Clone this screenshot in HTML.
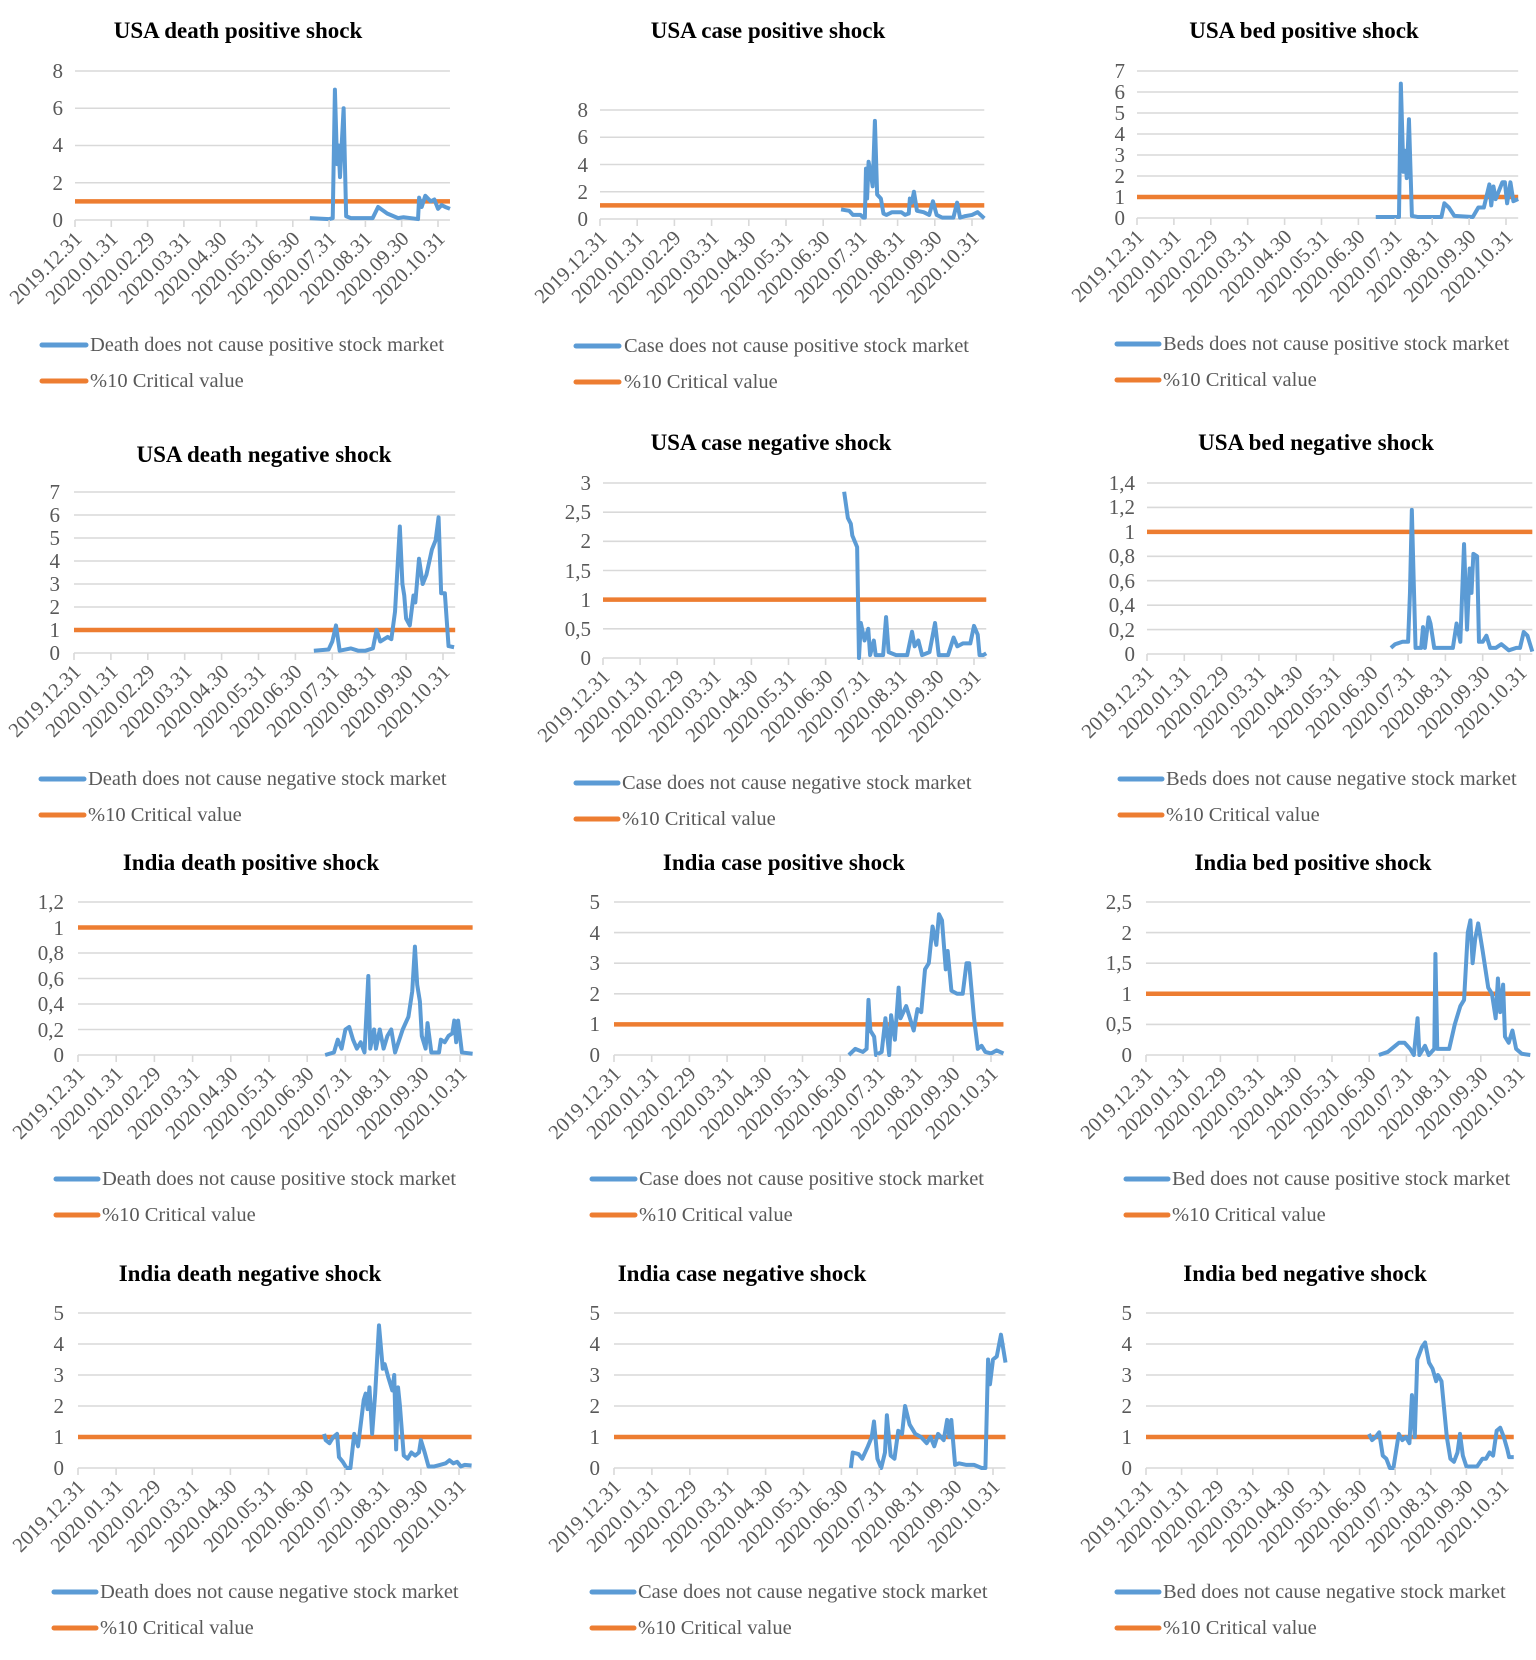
<!DOCTYPE html>
<html><head><meta charset="utf-8"><style>
html,body{margin:0;padding:0;background:#fff}
svg{display:block}
.t{font:bold 23px "Liberation Serif",serif;fill:#000;text-anchor:middle}
.yl{font:21px "Liberation Serif",serif;fill:#595959;text-anchor:end}
.xl{font:20.5px "Liberation Serif",serif;fill:#595959;text-anchor:end}
.lg{font:20.5px "Liberation Serif",serif;fill:#595959}
.g{stroke:#d9d9d9;stroke-width:1.6;fill:none}
.b{stroke:#5b9bd5;stroke-width:4;fill:none;stroke-linejoin:round}
.o{stroke:#ed7d31;stroke-width:4.5;fill:none}
.lb{stroke:#5b9bd5;stroke-width:5;stroke-linecap:round}
.lo{stroke:#ed7d31;stroke-width:5;stroke-linecap:round}
</style></head><body>
<svg width="1536" height="1660" viewBox="0 0 1536 1660" xmlns="http://www.w3.org/2000/svg">

<!-- P1 -->
<text class="t" x="238" y="38">USA death positive shock</text>
<g transform="translate(75,220) scale(36.3,-18.625)">
<path class="g" vector-effect="non-scaling-stroke" d="M0 0H10.33M0 2H10.33M0 4H10.33M0 6H10.33M0 8H10.33"/>
<polyline class="o" vector-effect="non-scaling-stroke" points="0,1 10.33,1"/>
<polyline class="b" vector-effect="non-scaling-stroke" points="6.47,0.1 7,0.05 7.1,0.1 7.16,7 7.22,3 7.26,4 7.3,2.3 7.4,6 7.47,0.2 7.6,0.1 8.2,0.1 8.35,0.7 8.6,0.35 8.9,0.1 9.05,0.15 9.45,0.05 9.48,1.2 9.55,0.7 9.65,1.3 9.8,1 9.9,1.1 10,0.6 10.1,0.8 10.2,0.7 10.33,0.6"/>
</g>
<g transform="translate(75,220) scale(36.3,1)"><path class="g" vector-effect="non-scaling-stroke" d="M0 0v7M1 0v7M2 0v7M3 0v7M4 0v7M5 0v7M6 0v7M7 0v7M8 0v7M9 0v7M10 0v7"/></g>
<text class="yl" x="63" y="227">0</text><text class="yl" x="63" y="190">2</text><text class="yl" x="63" y="152">4</text><text class="yl" x="63" y="115">6</text><text class="yl" x="63" y="78">8</text>
<g transform="translate(75,220)">
<text class="xl" transform="translate(8,20) rotate(-45)">2019.12.31</text><text class="xl" transform="translate(44,20) rotate(-45)">2020.01.31</text><text class="xl" transform="translate(81,20) rotate(-45)">2020.02.29</text><text class="xl" transform="translate(117,20) rotate(-45)">2020.03.31</text><text class="xl" transform="translate(153,20) rotate(-45)">2020.04.30</text><text class="xl" transform="translate(190,20) rotate(-45)">2020.05.31</text><text class="xl" transform="translate(226,20) rotate(-45)">2020.06.30</text><text class="xl" transform="translate(262,20) rotate(-45)">2020.07.31</text><text class="xl" transform="translate(298,20) rotate(-45)">2020.08.31</text><text class="xl" transform="translate(335,20) rotate(-45)">2020.09.30</text><text class="xl" transform="translate(371,20) rotate(-45)">2020.10.31</text>
</g>
<line class="lb" x1="42" y1="345" x2="86" y2="345"/><text class="lg" x="90" y="351">Death does not cause positive stock market</text>
<line class="lo" x1="42" y1="381" x2="86" y2="381"/><text class="lg" x="90" y="387">%10 Critical value</text>

<!-- P2 -->
<text class="t" x="768" y="38">USA case positive shock</text>
<g transform="translate(600,219) scale(37.2,-13.625)">
<path class="g" vector-effect="non-scaling-stroke" d="M0 0H10.33M0 2H10.33M0 4H10.33M0 6H10.33M0 8H10.33"/>
<polyline class="o" vector-effect="non-scaling-stroke" points="0,1 10.33,1"/>
<polyline class="b" vector-effect="non-scaling-stroke" points="6.48,0.7 6.7,0.6 6.8,0.3 7,0.3 7.08,0.1 7.12,0.1 7.15,3.7 7.18,1.5 7.22,4.2 7.28,3.3 7.33,2.4 7.39,7.2 7.45,1.8 7.55,1.5 7.62,0.4 7.7,0.3 7.85,0.5 8.1,0.5 8.2,0.3 8.3,0.4 8.33,1.5 8.38,1.2 8.44,2 8.52,0.6 8.7,0.5 8.85,0.3 8.95,1.3 9.05,0.3 9.2,0.1 9.5,0.1 9.6,1.2 9.68,0.1 9.8,0.2 10,0.3 10.15,0.5 10.33,0.05"/>
</g>
<g transform="translate(600,219) scale(37.2,1)"><path class="g" vector-effect="non-scaling-stroke" d="M0 0v7M1 0v7M2 0v7M3 0v7M4 0v7M5 0v7M6 0v7M7 0v7M8 0v7M9 0v7M10 0v7"/></g>
<text class="yl" x="588" y="226">0</text><text class="yl" x="588" y="199">2</text><text class="yl" x="588" y="172">4</text><text class="yl" x="588" y="144">6</text><text class="yl" x="588" y="117">8</text>
<g transform="translate(600,219)">
<text class="xl" transform="translate(8,20) rotate(-45)">2019.12.31</text><text class="xl" transform="translate(45,20) rotate(-45)">2020.01.31</text><text class="xl" transform="translate(82,20) rotate(-45)">2020.02.29</text><text class="xl" transform="translate(120,20) rotate(-45)">2020.03.31</text><text class="xl" transform="translate(157,20) rotate(-45)">2020.04.30</text><text class="xl" transform="translate(194,20) rotate(-45)">2020.05.31</text><text class="xl" transform="translate(231,20) rotate(-45)">2020.06.30</text><text class="xl" transform="translate(268,20) rotate(-45)">2020.07.31</text><text class="xl" transform="translate(306,20) rotate(-45)">2020.08.31</text><text class="xl" transform="translate(343,20) rotate(-45)">2020.09.30</text><text class="xl" transform="translate(380,20) rotate(-45)">2020.10.31</text>
</g>
<line class="lb" x1="576" y1="346" x2="619" y2="346"/><text class="lg" x="624" y="352">Case does not cause positive stock market</text>
<line class="lo" x1="576" y1="382" x2="619" y2="382"/><text class="lg" x="624" y="388">%10 Critical value</text>

<!-- P3 -->
<text class="t" x="1304" y="38">USA bed positive shock</text>
<g transform="translate(1137,218) scale(36.9,-21)">
<path class="g" vector-effect="non-scaling-stroke" d="M0 0H10.33M0 1H10.33M0 2H10.33M0 3H10.33M0 4H10.33M0 5H10.33M0 6H10.33M0 7H10.33"/>
<polyline class="o" vector-effect="non-scaling-stroke" points="0,1 10.33,1"/>
<polyline class="b" vector-effect="non-scaling-stroke" points="6.47,0.05 7.1,0.05 7.15,6.4 7.22,2.2 7.26,3.2 7.31,1.9 7.37,4.7 7.45,0.1 7.6,0.05 8.25,0.05 8.33,0.7 8.45,0.5 8.6,0.1 9.1,0.05 9.25,0.5 9.4,0.5 9.55,1.6 9.6,0.6 9.66,1.5 9.72,0.9 9.9,1.7 9.97,1.7 10.03,0.7 10.12,1.7 10.2,0.8 10.33,0.9"/>
</g>
<g transform="translate(1137,218) scale(36.9,1)"><path class="g" vector-effect="non-scaling-stroke" d="M0 0v7M1 0v7M2 0v7M3 0v7M4 0v7M5 0v7M6 0v7M7 0v7M8 0v7M9 0v7M10 0v7"/></g>
<text class="yl" x="1125" y="225">0</text><text class="yl" x="1125" y="204">1</text><text class="yl" x="1125" y="183">2</text><text class="yl" x="1125" y="162">3</text><text class="yl" x="1125" y="141">4</text><text class="yl" x="1125" y="120">5</text><text class="yl" x="1125" y="99">6</text><text class="yl" x="1125" y="78">7</text>
<g transform="translate(1137,218)">
<text class="xl" transform="translate(8,20) rotate(-45)">2019.12.31</text><text class="xl" transform="translate(45,20) rotate(-45)">2020.01.31</text><text class="xl" transform="translate(82,20) rotate(-45)">2020.02.29</text><text class="xl" transform="translate(119,20) rotate(-45)">2020.03.31</text><text class="xl" transform="translate(156,20) rotate(-45)">2020.04.30</text><text class="xl" transform="translate(193,20) rotate(-45)">2020.05.31</text><text class="xl" transform="translate(229,20) rotate(-45)">2020.06.30</text><text class="xl" transform="translate(266,20) rotate(-45)">2020.07.31</text><text class="xl" transform="translate(303,20) rotate(-45)">2020.08.31</text><text class="xl" transform="translate(340,20) rotate(-45)">2020.09.30</text><text class="xl" transform="translate(377,20) rotate(-45)">2020.10.31</text>
</g>
<line class="lb" x1="1117" y1="344" x2="1159" y2="344"/><text class="lg" x="1163" y="350">Beds does not cause positive stock market</text>
<line class="lo" x1="1117" y1="380" x2="1159" y2="380"/><text class="lg" x="1163" y="386">%10 Critical value</text>

<!-- P4 -->
<text class="t" x="264" y="462">USA death negative shock</text>
<g transform="translate(74,653) scale(36.9,-23)">
<path class="g" vector-effect="non-scaling-stroke" d="M0 0H10.33M0 1H10.33M0 2H10.33M0 3H10.33M0 4H10.33M0 5H10.33M0 6H10.33M0 7H10.33"/>
<polyline class="o" vector-effect="non-scaling-stroke" points="0,1 10.33,1"/>
<polyline class="b" vector-effect="non-scaling-stroke" points="6.5,0.1 6.9,0.15 7,0.5 7.1,1.2 7.2,0.1 7.5,0.2 7.7,0.1 7.9,0.1 8.1,0.2 8.2,1 8.3,0.5 8.5,0.7 8.6,0.6 8.7,1.8 8.83,5.5 8.9,3 8.95,2.5 9,1.5 9.1,1.2 9.2,2.5 9.25,2.2 9.35,4.1 9.45,3 9.55,3.4 9.7,4.5 9.8,4.9 9.88,5.9 9.95,2.6 10.05,2.6 10.15,0.3 10.3,0.25"/>
</g>
<g transform="translate(74,653) scale(36.9,1)"><path class="g" vector-effect="non-scaling-stroke" d="M0 0v7M1 0v7M2 0v7M3 0v7M4 0v7M5 0v7M6 0v7M7 0v7M8 0v7M9 0v7M10 0v7"/></g>
<text class="yl" x="60" y="660">0</text><text class="yl" x="60" y="637">1</text><text class="yl" x="60" y="614">2</text><text class="yl" x="60" y="591">3</text><text class="yl" x="60" y="568">4</text><text class="yl" x="60" y="545">5</text><text class="yl" x="60" y="522">6</text><text class="yl" x="60" y="499">7</text>
<g transform="translate(74,653)">
<text class="xl" transform="translate(8,20) rotate(-45)">2019.12.31</text><text class="xl" transform="translate(45,20) rotate(-45)">2020.01.31</text><text class="xl" transform="translate(82,20) rotate(-45)">2020.02.29</text><text class="xl" transform="translate(119,20) rotate(-45)">2020.03.31</text><text class="xl" transform="translate(156,20) rotate(-45)">2020.04.30</text><text class="xl" transform="translate(193,20) rotate(-45)">2020.05.31</text><text class="xl" transform="translate(229,20) rotate(-45)">2020.06.30</text><text class="xl" transform="translate(266,20) rotate(-45)">2020.07.31</text><text class="xl" transform="translate(303,20) rotate(-45)">2020.08.31</text><text class="xl" transform="translate(340,20) rotate(-45)">2020.09.30</text><text class="xl" transform="translate(377,20) rotate(-45)">2020.10.31</text>
</g>
<line class="lb" x1="41" y1="779" x2="84" y2="779"/><text class="lg" x="88" y="785">Death does not cause negative stock market</text>
<line class="lo" x1="41" y1="815" x2="84" y2="815"/><text class="lg" x="88" y="821">%10 Critical value</text>

<!-- P5 -->
<text class="t" x="771" y="450">USA case negative shock</text>
<g transform="translate(603,658) scale(37.1,-58.33)">
<path class="g" vector-effect="non-scaling-stroke" d="M0 0H10.33M0 0.5H10.33M0 1H10.33M0 1.5H10.33M0 2H10.33M0 2.5H10.33M0 3H10.33"/>
<polyline class="o" vector-effect="non-scaling-stroke" points="0,1 10.33,1"/>
<polyline class="b" vector-effect="non-scaling-stroke" points="6.5,2.85 6.6,2.4 6.68,2.3 6.72,2.1 6.85,1.9 6.9,0 6.95,0.6 7.05,0.3 7.15,0.5 7.2,0.05 7.3,0.3 7.35,0.05 7.55,0.05 7.63,0.7 7.7,0.1 7.9,0.05 8.2,0.05 8.33,0.45 8.4,0.2 8.5,0.3 8.6,0.05 8.8,0.1 8.95,0.6 9.05,0.05 9.3,0.05 9.45,0.35 9.55,0.2 9.7,0.25 9.9,0.25 10,0.55 10.1,0.4 10.15,0.05 10.25,0.05 10.33,0.08"/>
</g>
<g transform="translate(603,658) scale(37.1,1)"><path class="g" vector-effect="non-scaling-stroke" d="M0 0v7M1 0v7M2 0v7M3 0v7M4 0v7M5 0v7M6 0v7M7 0v7M8 0v7M9 0v7M10 0v7"/></g>
<text class="yl" x="591" y="665">0</text><text class="yl" x="591" y="636">0,5</text><text class="yl" x="591" y="607">1</text><text class="yl" x="591" y="578">1,5</text><text class="yl" x="591" y="548">2</text><text class="yl" x="591" y="519">2,5</text><text class="yl" x="591" y="490">3</text>
<g transform="translate(603,658)">
<text class="xl" transform="translate(8,20) rotate(-45)">2019.12.31</text><text class="xl" transform="translate(45,20) rotate(-45)">2020.01.31</text><text class="xl" transform="translate(82,20) rotate(-45)">2020.02.29</text><text class="xl" transform="translate(119,20) rotate(-45)">2020.03.31</text><text class="xl" transform="translate(156,20) rotate(-45)">2020.04.30</text><text class="xl" transform="translate(194,20) rotate(-45)">2020.05.31</text><text class="xl" transform="translate(231,20) rotate(-45)">2020.06.30</text><text class="xl" transform="translate(268,20) rotate(-45)">2020.07.31</text><text class="xl" transform="translate(305,20) rotate(-45)">2020.08.31</text><text class="xl" transform="translate(342,20) rotate(-45)">2020.09.30</text><text class="xl" transform="translate(379,20) rotate(-45)">2020.10.31</text>
</g>
<line class="lb" x1="576" y1="783" x2="618" y2="783"/><text class="lg" x="622" y="789">Case does not cause negative stock market</text>
<line class="lo" x1="576" y1="819" x2="618" y2="819"/><text class="lg" x="622" y="825">%10 Critical value</text>

<!-- P6 -->
<text class="t" x="1316" y="450">USA bed negative shock</text>
<g transform="translate(1147,654) scale(37.3,-122.14)">
<path class="g" vector-effect="non-scaling-stroke" d="M0 0H10.33M0 0.2H10.33M0 0.4H10.33M0 0.6H10.33M0 0.8H10.33M0 1H10.33M0 1.2H10.33M0 1.4H10.33"/>
<polyline class="o" vector-effect="non-scaling-stroke" points="0,1 10.33,1"/>
<polyline class="b" vector-effect="non-scaling-stroke" points="6.54,0.05 6.65,0.08 6.85,0.1 7,0.1 7.05,0.5 7.1,1.18 7.15,0.6 7.2,0.05 7.35,0.05 7.4,0.22 7.45,0.05 7.55,0.3 7.6,0.25 7.7,0.05 8,0.05 8.2,0.05 8.3,0.25 8.4,0.1 8.5,0.9 8.58,0.2 8.65,0.7 8.7,0.5 8.75,0.82 8.85,0.8 8.9,0.1 9,0.1 9.1,0.15 9.2,0.05 9.35,0.05 9.5,0.08 9.7,0.03 9.9,0.05 10,0.05 10.1,0.18 10.2,0.15 10.33,0.02"/>
</g>
<g transform="translate(1147,654) scale(37.3,1)"><path class="g" vector-effect="non-scaling-stroke" d="M0 0v7M1 0v7M2 0v7M3 0v7M4 0v7M5 0v7M6 0v7M7 0v7M8 0v7M9 0v7M10 0v7"/></g>
<text class="yl" x="1135" y="661">0</text><text class="yl" x="1135" y="637">0,2</text><text class="yl" x="1135" y="612">0,4</text><text class="yl" x="1135" y="588">0,6</text><text class="yl" x="1135" y="563">0,8</text><text class="yl" x="1135" y="539">1</text><text class="yl" x="1135" y="514">1,2</text><text class="yl" x="1135" y="490">1,4</text>
<g transform="translate(1147,654)">
<text class="xl" transform="translate(8,20) rotate(-45)">2019.12.31</text><text class="xl" transform="translate(45,20) rotate(-45)">2020.01.31</text><text class="xl" transform="translate(83,20) rotate(-45)">2020.02.29</text><text class="xl" transform="translate(120,20) rotate(-45)">2020.03.31</text><text class="xl" transform="translate(157,20) rotate(-45)">2020.04.30</text><text class="xl" transform="translate(195,20) rotate(-45)">2020.05.31</text><text class="xl" transform="translate(232,20) rotate(-45)">2020.06.30</text><text class="xl" transform="translate(269,20) rotate(-45)">2020.07.31</text><text class="xl" transform="translate(306,20) rotate(-45)">2020.08.31</text><text class="xl" transform="translate(344,20) rotate(-45)">2020.09.30</text><text class="xl" transform="translate(381,20) rotate(-45)">2020.10.31</text>
</g>
<line class="lb" x1="1120" y1="779" x2="1162" y2="779"/><text class="lg" x="1166" y="785">Beds does not cause negative stock market</text>
<line class="lo" x1="1120" y1="815" x2="1162" y2="815"/><text class="lg" x="1166" y="821">%10 Critical value</text>

<!-- P7 -->
<text class="t" x="251" y="870">India death positive shock</text>
<g transform="translate(78,1055) scale(38.2,-127.5)">
<path class="g" vector-effect="non-scaling-stroke" d="M0 0H10.33M0 0.2H10.33M0 0.4H10.33M0 0.6H10.33M0 0.8H10.33M0 1H10.33M0 1.2H10.33"/>
<polyline class="o" vector-effect="non-scaling-stroke" points="0,1 10.33,1"/>
<polyline class="b" vector-effect="non-scaling-stroke" points="6.47,0 6.7,0.02 6.8,0.12 6.9,0.05 7,0.2 7.1,0.22 7.2,0.12 7.3,0.05 7.4,0.1 7.5,0.02 7.6,0.62 7.65,0.05 7.75,0.2 7.8,0.05 7.9,0.2 8,0.05 8.1,0.15 8.2,0.2 8.3,0.02 8.5,0.2 8.65,0.3 8.75,0.5 8.82,0.85 8.88,0.55 8.95,0.42 9,0.15 9.1,0.05 9.15,0.25 9.25,0.02 9.45,0.02 9.5,0.12 9.6,0.1 9.7,0.15 9.8,0.17 9.85,0.27 9.9,0.1 9.95,0.27 10.05,0.02 10.33,0.01"/>
</g>
<g transform="translate(78,1055) scale(38.2,1)"><path class="g" vector-effect="non-scaling-stroke" d="M0 0v7M1 0v7M2 0v7M3 0v7M4 0v7M5 0v7M6 0v7M7 0v7M8 0v7M9 0v7M10 0v7"/></g>
<text class="yl" x="64" y="1062">0</text><text class="yl" x="64" y="1037">0,2</text><text class="yl" x="64" y="1011">0,4</text><text class="yl" x="64" y="986">0,6</text><text class="yl" x="64" y="960">0,8</text><text class="yl" x="64" y="935">1</text><text class="yl" x="64" y="909">1,2</text>
<g transform="translate(78,1055)">
<text class="xl" transform="translate(8,20) rotate(-45)">2019.12.31</text><text class="xl" transform="translate(46,20) rotate(-45)">2020.01.31</text><text class="xl" transform="translate(84,20) rotate(-45)">2020.02.29</text><text class="xl" transform="translate(123,20) rotate(-45)">2020.03.31</text><text class="xl" transform="translate(161,20) rotate(-45)">2020.04.30</text><text class="xl" transform="translate(199,20) rotate(-45)">2020.05.31</text><text class="xl" transform="translate(237,20) rotate(-45)">2020.06.30</text><text class="xl" transform="translate(275,20) rotate(-45)">2020.07.31</text><text class="xl" transform="translate(314,20) rotate(-45)">2020.08.31</text><text class="xl" transform="translate(352,20) rotate(-45)">2020.09.30</text><text class="xl" transform="translate(390,20) rotate(-45)">2020.10.31</text>
</g>
<line class="lb" x1="56" y1="1179" x2="98" y2="1179"/><text class="lg" x="102" y="1185">Death does not cause positive stock market</text>
<line class="lo" x1="56" y1="1215" x2="98" y2="1215"/><text class="lg" x="102" y="1221">%10 Critical value</text>

<!-- P8 -->
<text class="t" x="784" y="870">India case positive shock</text>
<g transform="translate(614,1055) scale(37.7,-30.6)">
<path class="g" vector-effect="non-scaling-stroke" d="M0 0H10.33M0 1H10.33M0 2H10.33M0 3H10.33M0 4H10.33M0 5H10.33"/>
<polyline class="o" vector-effect="non-scaling-stroke" points="0,1 10.33,1"/>
<polyline class="b" vector-effect="non-scaling-stroke" points="6.23,0 6.4,0.2 6.6,0.1 6.7,0.2 6.75,1.8 6.8,0.8 6.9,0.6 6.95,0 7.1,0.1 7.2,1.2 7.3,0 7.35,1.3 7.45,0.5 7.55,2.2 7.6,1.2 7.75,1.6 7.85,1.2 7.95,0.8 8.05,1.5 8.15,1.4 8.25,2.8 8.35,3 8.45,4.2 8.55,3.6 8.62,4.6 8.7,4.4 8.8,2.8 8.85,3.4 8.95,2.1 9.1,2 9.25,2 9.35,3 9.42,3 9.55,1.2 9.65,0.2 9.75,0.3 9.85,0.1 10,0.05 10.15,0.15 10.33,0.05"/>
</g>
<g transform="translate(614,1055) scale(37.7,1)"><path class="g" vector-effect="non-scaling-stroke" d="M0 0v7M1 0v7M2 0v7M3 0v7M4 0v7M5 0v7M6 0v7M7 0v7M8 0v7M9 0v7M10 0v7"/></g>
<text class="yl" x="600" y="1062">0</text><text class="yl" x="600" y="1031">1</text><text class="yl" x="600" y="1001">2</text><text class="yl" x="600" y="970">3</text><text class="yl" x="600" y="940">4</text><text class="yl" x="600" y="909">5</text>
<g transform="translate(614,1055)">
<text class="xl" transform="translate(8,20) rotate(-45)">2019.12.31</text><text class="xl" transform="translate(46,20) rotate(-45)">2020.01.31</text><text class="xl" transform="translate(83,20) rotate(-45)">2020.02.29</text><text class="xl" transform="translate(121,20) rotate(-45)">2020.03.31</text><text class="xl" transform="translate(159,20) rotate(-45)">2020.04.30</text><text class="xl" transform="translate(197,20) rotate(-45)">2020.05.31</text><text class="xl" transform="translate(234,20) rotate(-45)">2020.06.30</text><text class="xl" transform="translate(272,20) rotate(-45)">2020.07.31</text><text class="xl" transform="translate(310,20) rotate(-45)">2020.08.31</text><text class="xl" transform="translate(347,20) rotate(-45)">2020.09.30</text><text class="xl" transform="translate(385,20) rotate(-45)">2020.10.31</text>
</g>
<line class="lb" x1="592" y1="1179" x2="635" y2="1179"/><text class="lg" x="639" y="1185">Case does not cause positive stock market</text>
<line class="lo" x1="592" y1="1215" x2="635" y2="1215"/><text class="lg" x="639" y="1221">%10 Critical value</text>

<!-- P9 -->
<text class="t" x="1313" y="870">India bed positive shock</text>
<g transform="translate(1146,1055) scale(37.2,-61.2)">
<path class="g" vector-effect="non-scaling-stroke" d="M0 0H10.33M0 0.5H10.33M0 1H10.33M0 1.5H10.33M0 2H10.33M0 2.5H10.33"/>
<polyline class="o" vector-effect="non-scaling-stroke" points="0,1 10.33,1"/>
<polyline class="b" vector-effect="non-scaling-stroke" points="6.26,0 6.5,0.05 6.7,0.15 6.8,0.2 6.95,0.2 7.1,0.1 7.2,0 7.3,0.6 7.35,0 7.5,0.15 7.6,0 7.75,0.1 7.78,1.65 7.83,0.1 8,0.1 8.15,0.1 8.3,0.5 8.45,0.8 8.55,0.9 8.65,2 8.72,2.2 8.78,1.5 8.85,1.9 8.93,2.15 9.05,1.7 9.2,1.1 9.3,1 9.4,0.6 9.46,1.25 9.52,0.7 9.6,1.15 9.65,0.3 9.75,0.2 9.85,0.4 9.95,0.1 10.1,0.02 10.33,0"/>
</g>
<g transform="translate(1146,1055) scale(37.2,1)"><path class="g" vector-effect="non-scaling-stroke" d="M0 0v7M1 0v7M2 0v7M3 0v7M4 0v7M5 0v7M6 0v7M7 0v7M8 0v7M9 0v7M10 0v7"/></g>
<text class="yl" x="1132" y="1062">0</text><text class="yl" x="1132" y="1031">0,5</text><text class="yl" x="1132" y="1001">1</text><text class="yl" x="1132" y="970">1,5</text><text class="yl" x="1132" y="940">2</text><text class="yl" x="1132" y="909">2,5</text>
<g transform="translate(1146,1055)">
<text class="xl" transform="translate(8,20) rotate(-45)">2019.12.31</text><text class="xl" transform="translate(45,20) rotate(-45)">2020.01.31</text><text class="xl" transform="translate(82,20) rotate(-45)">2020.02.29</text><text class="xl" transform="translate(120,20) rotate(-45)">2020.03.31</text><text class="xl" transform="translate(157,20) rotate(-45)">2020.04.30</text><text class="xl" transform="translate(194,20) rotate(-45)">2020.05.31</text><text class="xl" transform="translate(231,20) rotate(-45)">2020.06.30</text><text class="xl" transform="translate(268,20) rotate(-45)">2020.07.31</text><text class="xl" transform="translate(306,20) rotate(-45)">2020.08.31</text><text class="xl" transform="translate(343,20) rotate(-45)">2020.09.30</text><text class="xl" transform="translate(380,20) rotate(-45)">2020.10.31</text>
</g>
<line class="lb" x1="1126" y1="1179" x2="1168" y2="1179"/><text class="lg" x="1172" y="1185">Bed does not cause positive stock market</text>
<line class="lo" x1="1126" y1="1215" x2="1168" y2="1215"/><text class="lg" x="1172" y="1221">%10 Critical value</text>

<!-- P10 -->
<text class="t" x="250" y="1281">India death negative shock</text>
<g transform="translate(78,1468) scale(38.1,-31)">
<path class="g" vector-effect="non-scaling-stroke" d="M0 0H10.33M0 1H10.33M0 2H10.33M0 3H10.33M0 4H10.33M0 5H10.33"/>
<polyline class="o" vector-effect="non-scaling-stroke" points="0,1 10.33,1"/>
<polyline class="b" vector-effect="non-scaling-stroke" points="6.46,1.1 6.5,0.9 6.6,0.8 6.7,1 6.8,1.1 6.85,0.35 6.95,0.2 7.05,0 7.15,0 7.25,1.1 7.35,0.7 7.5,2.2 7.55,2.4 7.6,1.9 7.65,2.6 7.72,1.1 7.8,2.4 7.9,4.6 8,3.2 8.05,3.35 8.15,2.9 8.25,2.5 8.3,3 8.35,0.6 8.4,2.6 8.45,2 8.55,0.4 8.65,0.3 8.75,0.5 8.85,0.4 8.95,0.5 9,0.9 9.1,0.5 9.2,0.05 9.35,0.05 9.5,0.1 9.65,0.15 9.75,0.25 9.85,0.15 9.95,0.2 10.05,0.05 10.15,0.1 10.33,0.08"/>
</g>
<g transform="translate(78,1468) scale(38.1,1)"><path class="g" vector-effect="non-scaling-stroke" d="M0 0v7M1 0v7M2 0v7M3 0v7M4 0v7M5 0v7M6 0v7M7 0v7M8 0v7M9 0v7M10 0v7"/></g>
<text class="yl" x="64" y="1475">0</text><text class="yl" x="64" y="1444">1</text><text class="yl" x="64" y="1413">2</text><text class="yl" x="64" y="1382">3</text><text class="yl" x="64" y="1351">4</text><text class="yl" x="64" y="1320">5</text>
<g transform="translate(78,1468)">
<text class="xl" transform="translate(8,20) rotate(-45)">2019.12.31</text><text class="xl" transform="translate(46,20) rotate(-45)">2020.01.31</text><text class="xl" transform="translate(84,20) rotate(-45)">2020.02.29</text><text class="xl" transform="translate(122,20) rotate(-45)">2020.03.31</text><text class="xl" transform="translate(160,20) rotate(-45)">2020.04.30</text><text class="xl" transform="translate(199,20) rotate(-45)">2020.05.31</text><text class="xl" transform="translate(237,20) rotate(-45)">2020.06.30</text><text class="xl" transform="translate(275,20) rotate(-45)">2020.07.31</text><text class="xl" transform="translate(313,20) rotate(-45)">2020.08.31</text><text class="xl" transform="translate(351,20) rotate(-45)">2020.09.30</text><text class="xl" transform="translate(389,20) rotate(-45)">2020.10.31</text>
</g>
<line class="lb" x1="54" y1="1592" x2="96" y2="1592"/><text class="lg" x="100" y="1598">Death does not cause negative stock market</text>
<line class="lo" x1="54" y1="1628" x2="96" y2="1628"/><text class="lg" x="100" y="1634">%10 Critical value</text>

<!-- P11 -->
<text class="t" x="742" y="1281">India case negative shock</text>
<g transform="translate(614,1468) scale(37.9,-31)">
<path class="g" vector-effect="non-scaling-stroke" d="M0 0H10.33M0 1H10.33M0 2H10.33M0 3H10.33M0 4H10.33M0 5H10.33"/>
<polyline class="o" vector-effect="non-scaling-stroke" points="0,1 10.33,1"/>
<polyline class="b" vector-effect="non-scaling-stroke" points="6.25,0 6.3,0.5 6.45,0.45 6.55,0.3 6.7,0.7 6.8,1 6.86,1.5 6.95,0.3 7.05,0 7.15,0.5 7.2,1.7 7.3,0.4 7.4,0.3 7.5,1.2 7.6,1.1 7.68,2 7.8,1.4 7.95,1.1 8.1,1 8.25,0.8 8.35,1 8.45,0.7 8.55,1.1 8.7,0.9 8.79,1.55 8.85,1 8.9,1.55 9,0.1 9.1,0.15 9.3,0.1 9.5,0.1 9.7,0 9.8,0 9.87,3.5 9.92,2.7 10,3.5 10.1,3.6 10.21,4.3 10.33,3.4"/>
</g>
<g transform="translate(614,1468) scale(37.9,1)"><path class="g" vector-effect="non-scaling-stroke" d="M0 0v7M1 0v7M2 0v7M3 0v7M4 0v7M5 0v7M6 0v7M7 0v7M8 0v7M9 0v7M10 0v7"/></g>
<text class="yl" x="600" y="1475">0</text><text class="yl" x="600" y="1444">1</text><text class="yl" x="600" y="1413">2</text><text class="yl" x="600" y="1382">3</text><text class="yl" x="600" y="1351">4</text><text class="yl" x="600" y="1320">5</text>
<g transform="translate(614,1468)">
<text class="xl" transform="translate(8,20) rotate(-45)">2019.12.31</text><text class="xl" transform="translate(46,20) rotate(-45)">2020.01.31</text><text class="xl" transform="translate(84,20) rotate(-45)">2020.02.29</text><text class="xl" transform="translate(122,20) rotate(-45)">2020.03.31</text><text class="xl" transform="translate(160,20) rotate(-45)">2020.04.30</text><text class="xl" transform="translate(198,20) rotate(-45)">2020.05.31</text><text class="xl" transform="translate(235,20) rotate(-45)">2020.06.30</text><text class="xl" transform="translate(273,20) rotate(-45)">2020.07.31</text><text class="xl" transform="translate(311,20) rotate(-45)">2020.08.31</text><text class="xl" transform="translate(349,20) rotate(-45)">2020.09.30</text><text class="xl" transform="translate(387,20) rotate(-45)">2020.10.31</text>
</g>
<line class="lb" x1="592" y1="1592" x2="634" y2="1592"/><text class="lg" x="638" y="1598">Case does not cause negative stock market</text>
<line class="lo" x1="592" y1="1628" x2="634" y2="1628"/><text class="lg" x="638" y="1634">%10 Critical value</text>

<!-- P12 -->
<text class="t" x="1305" y="1281">India bed negative shock</text>
<g transform="translate(1146,1468) scale(35.6,-31)">
<path class="g" vector-effect="non-scaling-stroke" d="M0 0H10.33M0 1H10.33M0 2H10.33M0 3H10.33M0 4H10.33M0 5H10.33"/>
<polyline class="o" vector-effect="non-scaling-stroke" points="0,1 10.33,1"/>
<polyline class="b" vector-effect="non-scaling-stroke" points="6.26,1.1 6.35,0.9 6.45,1 6.55,1.15 6.65,0.4 6.75,0.3 6.85,0 6.95,0 7.1,1.1 7.2,0.9 7.3,1 7.4,0.8 7.47,2.35 7.55,1 7.62,3.5 7.75,3.9 7.84,4.05 7.95,3.4 8.05,3.2 8.15,2.8 8.2,3 8.3,2.8 8.45,1 8.55,0.3 8.65,0.2 8.75,0.5 8.82,1.1 8.9,0.4 9,0.05 9.3,0.05 9.45,0.3 9.55,0.3 9.65,0.5 9.75,0.4 9.85,1.2 9.95,1.3 10.05,1 10.15,0.6 10.2,0.35 10.33,0.35"/>
</g>
<g transform="translate(1146,1468) scale(35.6,1)"><path class="g" vector-effect="non-scaling-stroke" d="M0 0v7M1 0v7M2 0v7M3 0v7M4 0v7M5 0v7M6 0v7M7 0v7M8 0v7M9 0v7M10 0v7"/></g>
<text class="yl" x="1132" y="1475">0</text><text class="yl" x="1132" y="1444">1</text><text class="yl" x="1132" y="1413">2</text><text class="yl" x="1132" y="1382">3</text><text class="yl" x="1132" y="1351">4</text><text class="yl" x="1132" y="1320">5</text>
<g transform="translate(1146,1468)">
<text class="xl" transform="translate(8,20) rotate(-45)">2019.12.31</text><text class="xl" transform="translate(44,20) rotate(-45)">2020.01.31</text><text class="xl" transform="translate(79,20) rotate(-45)">2020.02.29</text><text class="xl" transform="translate(115,20) rotate(-45)">2020.03.31</text><text class="xl" transform="translate(150,20) rotate(-45)">2020.04.30</text><text class="xl" transform="translate(186,20) rotate(-45)">2020.05.31</text><text class="xl" transform="translate(222,20) rotate(-45)">2020.06.30</text><text class="xl" transform="translate(257,20) rotate(-45)">2020.07.31</text><text class="xl" transform="translate(293,20) rotate(-45)">2020.08.31</text><text class="xl" transform="translate(328,20) rotate(-45)">2020.09.30</text><text class="xl" transform="translate(364,20) rotate(-45)">2020.10.31</text>
</g>
<line class="lb" x1="1117" y1="1592" x2="1159" y2="1592"/><text class="lg" x="1163" y="1598">Bed does not cause negative stock market</text>
<line class="lo" x1="1117" y1="1628" x2="1159" y2="1628"/><text class="lg" x="1163" y="1634">%10 Critical value</text>

</svg>
</body></html>
